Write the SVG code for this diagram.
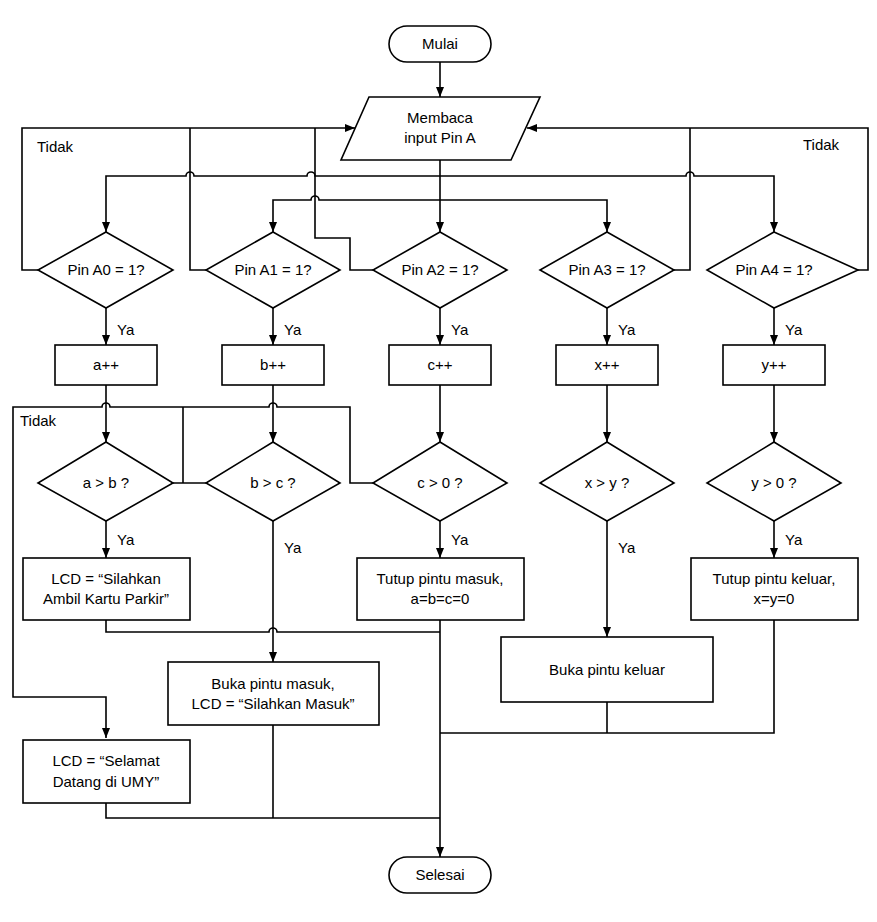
<svg xmlns="http://www.w3.org/2000/svg" width="877" height="922" viewBox="0 0 877 922">
<style>
.s{fill:#fff;stroke:#000;stroke-width:1.6}
.c{fill:none;stroke:#000;stroke-width:1.6}
text{font-family:"Liberation Sans",Arial,sans-serif;font-size:15px;fill:#000}
.m{text-anchor:middle}
</style>
<defs><marker id="a" markerWidth="10" markerHeight="10" refX="10" refY="5" orient="auto" markerUnits="userSpaceOnUse"><path d="M0,1 L10,5 L0,9 Z" fill="#000"/></marker></defs>
<rect width="877" height="922" fill="#fff"/>
<g id="connectors">
<path class="c" d="M440,62 V97" marker-end="url(#a)"/>
<path class="c" d="M440,160 V232" marker-end="url(#a)"/>
<path class="c" d="M440,176 H315 a4,4 0 0 0 -8,0 H194 a4,4 0 0 0 -8,0 H106 V232" marker-end="url(#a)"/>
<path class="c" d="M440,176 H686 a4,4 0 0 1 8,0 H774 V232" marker-end="url(#a)"/>
<path class="c" d="M440,200 H319 a4,4 0 0 0 -8,0 H273 V232" marker-end="url(#a)"/>
<path class="c" d="M440,200 H607 V232" marker-end="url(#a)"/>
<path class="c" d="M38,270 H22 V128 H355" marker-end="url(#a)"/>
<path class="c" d="M206,270 H190 V128"/>
<path class="c" d="M373,270 H350 V238 H315 V128"/>
<path class="c" d="M858,270 H868 V128 H527" marker-end="url(#a)"/>
<path class="c" d="M674,270 H690 V128"/>
<path class="c" d="M106,308 V345" marker-end="url(#a)"/>
<path class="c" d="M273,308 V345" marker-end="url(#a)"/>
<path class="c" d="M440,308 V345" marker-end="url(#a)"/>
<path class="c" d="M607,308 V345" marker-end="url(#a)"/>
<path class="c" d="M774,308 V345" marker-end="url(#a)"/>
<path class="c" d="M106,385 V442" marker-end="url(#a)"/>
<path class="c" d="M273,385 V442" marker-end="url(#a)"/>
<path class="c" d="M440,385 V442" marker-end="url(#a)"/>
<path class="c" d="M607,385 V442" marker-end="url(#a)"/>
<path class="c" d="M774,385 V442" marker-end="url(#a)"/>
<path class="c" d="M173,483 H206"/>
<path class="c" d="M183,483 V407"/>
<path class="c" d="M373,483 H350 V407 H277 a4,4 0 0 0 -8,0 H110 a4,4 0 0 0 -8,0 H13 V697 H106 V738" marker-end="url(#a)"/>
<path class="c" d="M106,521 V558" marker-end="url(#a)"/>
<path class="c" d="M273,521 V662" marker-end="url(#a)"/>
<path class="c" d="M440,521 V558" marker-end="url(#a)"/>
<path class="c" d="M607,521 V637" marker-end="url(#a)"/>
<path class="c" d="M774,521 V558" marker-end="url(#a)"/>
<path class="c" d="M106,620 V632 H269 a4,4 0 0 1 8,0 H440"/>
<path class="c" d="M440,620 V857" marker-end="url(#a)"/>
<path class="c" d="M774,620 V733 H440"/>
<path class="c" d="M607,702 V733"/>
<path class="c" d="M106,803 V818 H440"/>
<path class="c" d="M273,725 V818"/>
</g>
<g id="mulai"><rect class="s" x="389" y="26" width="102" height="36" rx="18"/><text class="m" x="440" y="49">Mulai</text></g>
<g id="baca"><path class="s" d="M369,97 H540 L511,160 H341 Z"/><text class="m" x="440" y="123">Membaca</text><text class="m" x="440" y="143">input Pin A</text></g>
<g id="pa0"><path class="s" d="M106,232 L173,270 L106,308 L38,270 Z"/><text class="m" x="106" y="275">Pin A0 = 1?</text></g>
<g id="pa1"><path class="s" d="M273,232 L340,270 L273,308 L206,270 Z"/><text class="m" x="273" y="275">Pin A1 = 1?</text></g>
<g id="pa2"><path class="s" d="M440,232 L507,270 L440,308 L373,270 Z"/><text class="m" x="440" y="275">Pin A2 = 1?</text></g>
<g id="pa3"><path class="s" d="M607,232 L674,270 L607,308 L540,270 Z"/><text class="m" x="607" y="275">Pin A3 = 1?</text></g>
<g id="pa4"><path class="s" d="M774,232 L858,270 L774,308 L707,270 Z"/><text class="m" x="774" y="275">Pin A4 = 1?</text></g>
<g id="ia"><rect class="s" x="55" y="345" width="102" height="40"/><text class="m" x="106" y="370">a++</text></g>
<g id="ib"><rect class="s" x="222" y="345" width="102" height="40"/><text class="m" x="273" y="370">b++</text></g>
<g id="ic"><rect class="s" x="389" y="345" width="102" height="40"/><text class="m" x="440" y="370">c++</text></g>
<g id="ix"><rect class="s" x="556" y="345" width="102" height="40"/><text class="m" x="607" y="370">x++</text></g>
<g id="iy"><rect class="s" x="723" y="345" width="102" height="40"/><text class="m" x="774" y="370">y++</text></g>
<g id="dab"><path class="s" d="M106,442 L173,483 L106,521 L38,483 Z"/><text class="m" x="106" y="488">a &gt; b ?</text></g>
<g id="dbc"><path class="s" d="M273,442 L340,483 L273,521 L206,483 Z"/><text class="m" x="273" y="488">b &gt; c ?</text></g>
<g id="dc0"><path class="s" d="M440,442 L507,483 L440,521 L373,483 Z"/><text class="m" x="440" y="488">c &gt; 0 ?</text></g>
<g id="dxy"><path class="s" d="M607,442 L674,483 L607,521 L540,483 Z"/><text class="m" x="607" y="488">x &gt; y ?</text></g>
<g id="dy0"><path class="s" d="M774,442 L841,483 L774,521 L707,483 Z"/><text class="m" x="774" y="488">y &gt; 0 ?</text></g>
<g id="lcd1"><rect class="s" x="23" y="558" width="167" height="62"/><text class="m" x="106" y="584">LCD = “Silahkan</text><text class="m" x="106" y="604">Ambil Kartu Parkir”</text></g>
<g id="tpm"><rect class="s" x="357" y="558" width="167" height="62"/><text class="m" x="440" y="584">Tutup pintu masuk,</text><text class="m" x="440" y="604">a=b=c=0</text></g>
<g id="tpk"><rect class="s" x="691" y="558" width="167" height="62"/><text class="m" x="774" y="584">Tutup pintu keluar,</text><text class="m" x="774" y="604">x=y=0</text></g>
<g id="bpm"><rect class="s" x="168" y="662" width="211" height="63"/><text class="m" x="273" y="689">Buka pintu masuk,</text><text class="m" x="273" y="709">LCD = “Silahkan Masuk”</text></g>
<g id="bpk"><rect class="s" x="501" y="637" width="212" height="65"/><text class="m" x="607" y="675">Buka pintu keluar</text></g>
<g id="lcd2"><rect class="s" x="23" y="740" width="167" height="63"/><text class="m" x="106" y="766">LCD = “Selamat</text><text class="m" x="106" y="787">Datang di UMY”</text></g>
<g id="selesai"><rect class="s" x="389" y="857" width="102" height="36" rx="18"/><text class="m" x="440" y="880">Selesai</text></g>
<g id="labels">
<text x="37" y="152">Tidak</text><text x="803" y="150">Tidak</text><text x="20" y="426">Tidak</text>
<text x="117" y="335">Ya</text><text x="284" y="335">Ya</text><text x="451" y="335">Ya</text><text x="618" y="335">Ya</text><text x="785" y="335">Ya</text>
<text x="117" y="545">Ya</text><text x="284" y="553">Ya</text><text x="451" y="545">Ya</text><text x="618" y="553">Ya</text><text x="785" y="545">Ya</text>
</g>
</svg>
